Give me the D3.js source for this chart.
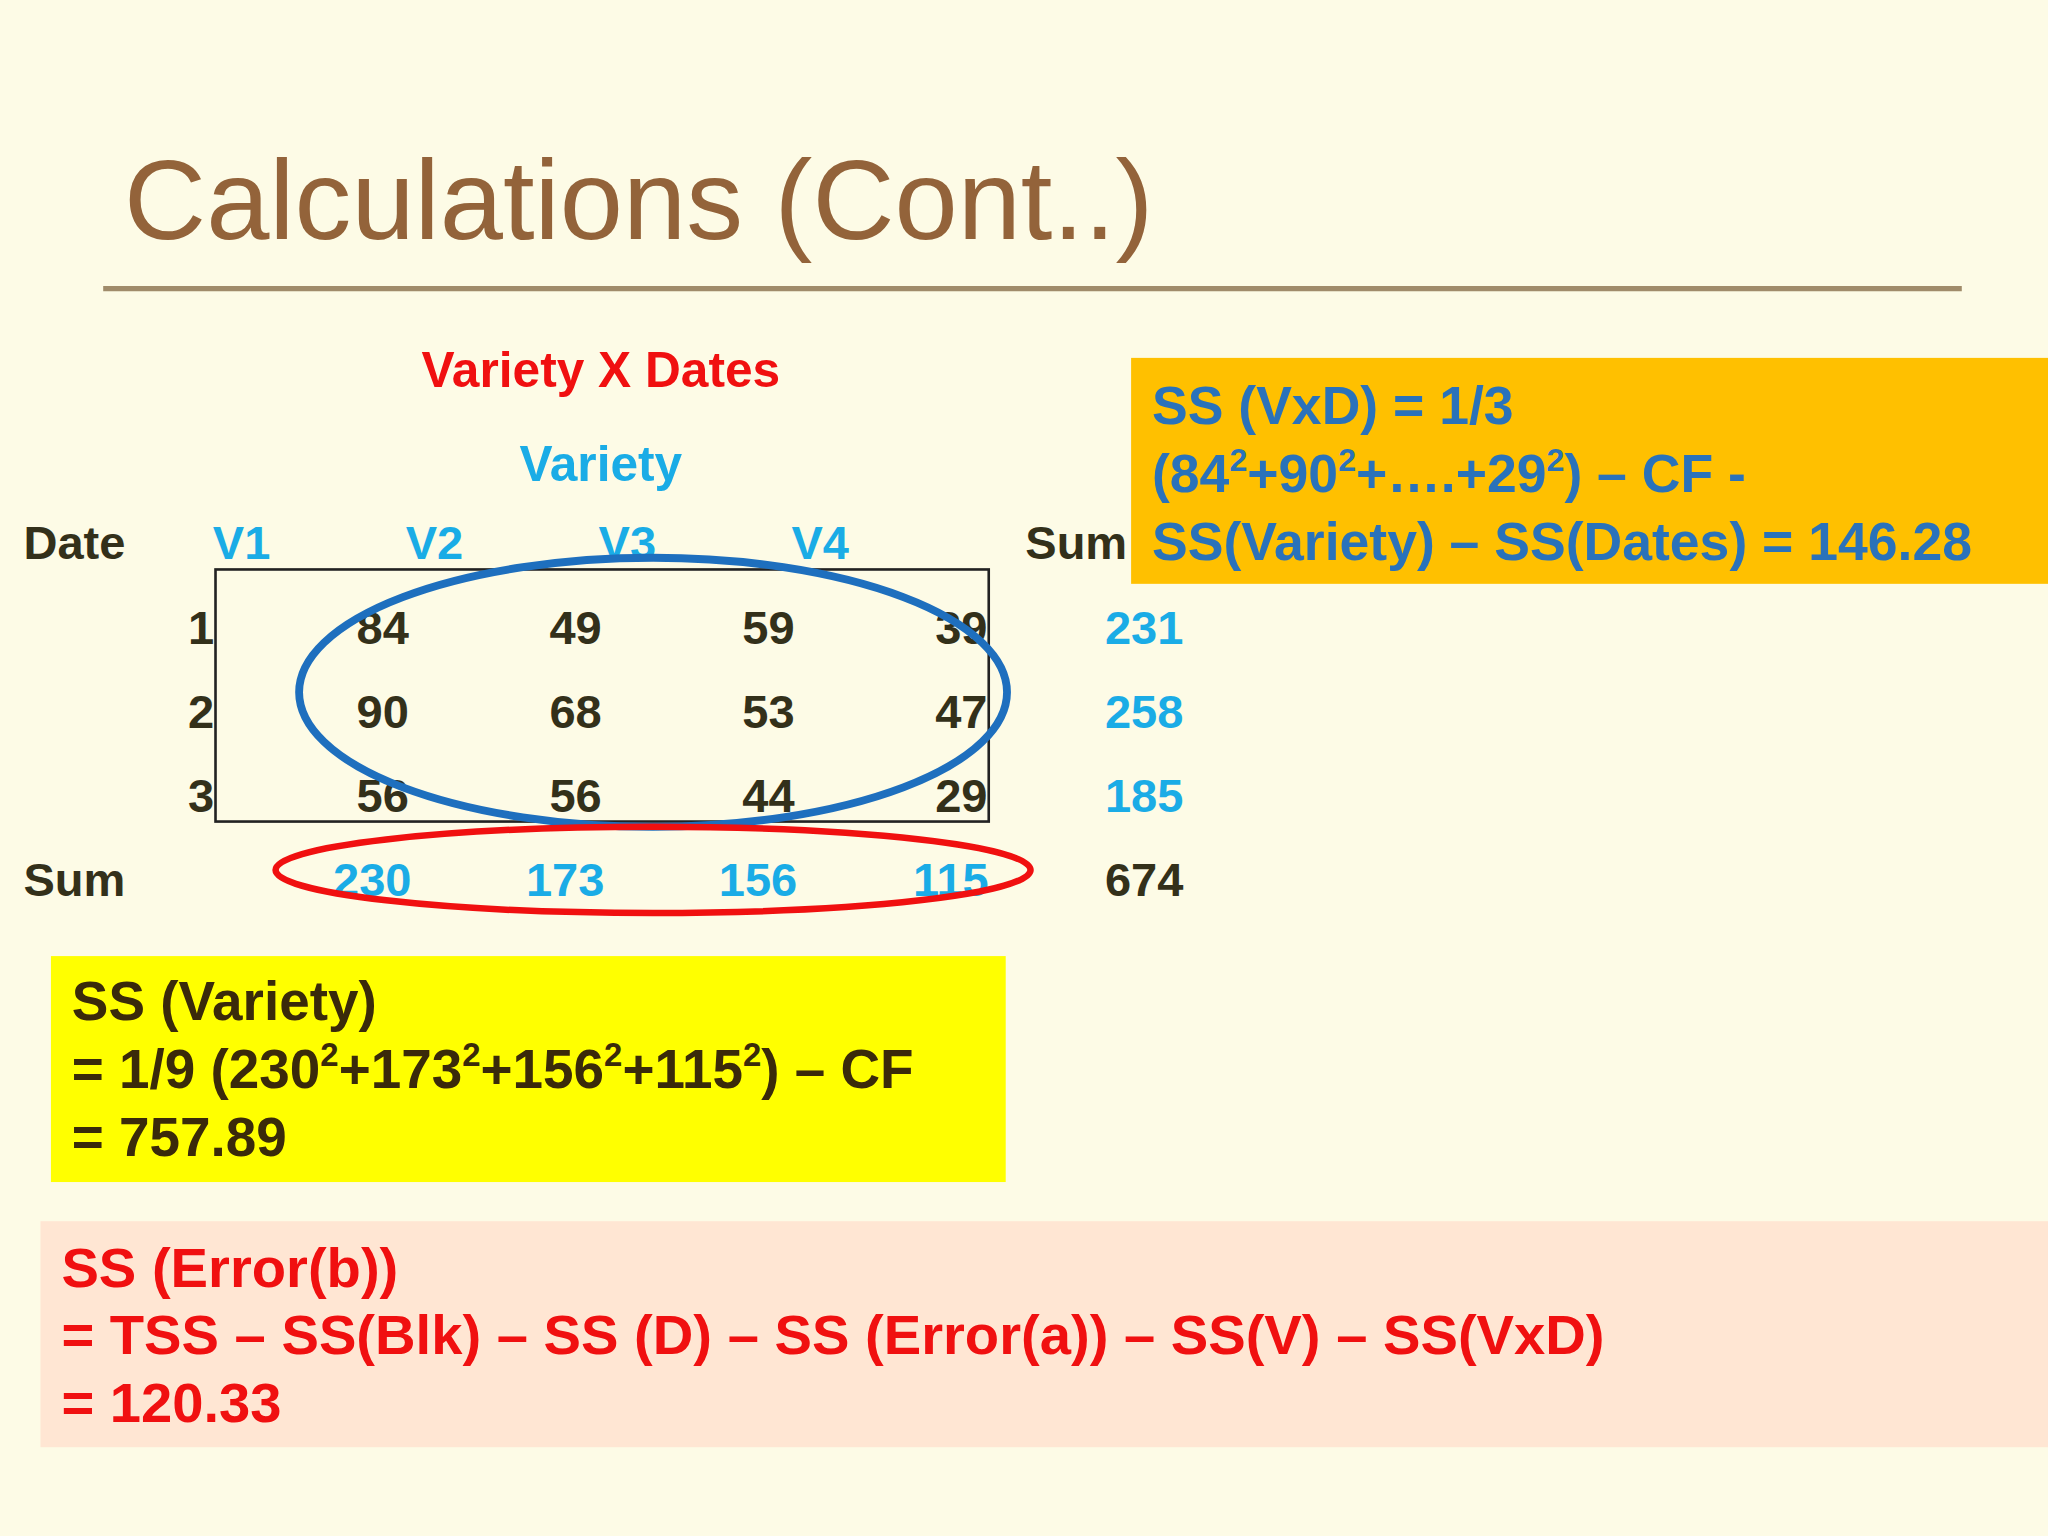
<!DOCTYPE html>
<html><head><meta charset="utf-8">
<script src="https://cdn.jsdelivr.net/npm/d3@7"></script>
<style>body{margin:0;background:#FDFBE6}svg{display:block}</style>
</head><body>
<script>
const varieties = ['V1', 'V2', 'V3', 'V4'];
const dates = ['1', '2', '3'];
const values = [[84, 49, 59, 39], [90, 68, 53, 47], [56, 56, 44, 29]];
const dateSums = [231, 258, 185];
const varietySums = [230, 173, 156, 115];
const grandTotal = 674;

const W = 1568, H = 1176;
const svg = d3.select('body').append('svg')
  .attr('width', 2048).attr('height', 1536)
  .attr('viewBox', `0 0 ${W} ${H}`)
  .style('font-family', '"Liberation Sans", Arial, sans-serif');

svg.append('rect').attr('width', W).attr('height', H).attr('fill', '#FDFBE6');

const dark = '#33301A', cyan = '#1AACE6', red = '#F01010', blue = '#2A72BA';

svg.append('text').attr('x', 95).attr('y', 183).attr('font-size', 87)
  .attr('fill', '#93633A').text('Calculations (Cont..)');
svg.append('line').attr('x1', 79).attr('x2', 1502).attr('y1', 221).attr('y2', 221)
  .attr('stroke', '#A08B6A').attr('stroke-width', 4);

const bold = s => s.attr('font-weight', 'bold').attr('font-size', 36);

bold(svg.append('text')).attr('x', 460).attr('y', 296).attr('text-anchor', 'middle')
  .attr('font-size', 38).attr('fill', red).text('Variety X Dates');
bold(svg.append('text')).attr('x', 460).attr('y', 368).attr('text-anchor', 'middle')
  .attr('font-size', 38).attr('fill', cyan).text('Variety');

// column scale: right edges of value columns
const x = d3.scalePoint().domain(varieties).range([313, 756]);
const y = d3.scalePoint().domain(dates).range([493, 622]);

bold(svg.append('text')).attr('x', 18).attr('y', 428).attr('fill', dark).text('Date');
bold(svg.append('text')).attr('x', 824).attr('y', 428).attr('text-anchor', 'middle').attr('fill', dark).text('Sum');
svg.selectAll('.vh').data(varieties).join('text').call(bold)
  .attr('x', d => x(d) - 128).attr('y', 428).attr('text-anchor', 'middle')
  .attr('fill', cyan).text(d => d);

svg.append('rect').attr('x', 165).attr('y', 436).attr('width', 592).attr('height', 193)
  .attr('fill', 'none').attr('stroke', '#222').attr('stroke-width', 2);

svg.selectAll('.dl').data(dates).join('text').call(bold)
  .attr('x', 164).attr('y', d => y(d)).attr('text-anchor', 'end')
  .attr('fill', dark).text(d => d);

values.forEach((row, i) => {
  svg.selectAll('.c' + i).data(row).join('text').call(bold)
    .attr('x', (d, j) => x(varieties[j])).attr('y', y(dates[i]))
    .attr('text-anchor', 'end').attr('fill', dark).text(d => d);
});
svg.selectAll('.ds').data(dateSums).join('text').call(bold)
  .attr('x', 876).attr('y', (d, i) => y(dates[i])).attr('text-anchor', 'middle')
  .attr('fill', cyan).text(d => d);

bold(svg.append('text')).attr('x', 18).attr('y', 686).attr('fill', dark).text('Sum');
svg.selectAll('.vs').data(varietySums).join('text').call(bold)
  .attr('x', (d, i) => x(varieties[i]) - 28).attr('y', 686).attr('text-anchor', 'middle')
  .attr('fill', cyan).text(d => d);
bold(svg.append('text')).attr('x', 876).attr('y', 686).attr('text-anchor', 'middle')
  .attr('fill', dark).text(grandTotal);

svg.append('ellipse').attr('cx', 500).attr('cy', 530).attr('rx', 271).attr('ry', 103)
  .attr('fill', 'none').attr('stroke', '#1E6FBE').attr('stroke-width', 6);
svg.append('ellipse').attr('cx', 500).attr('cy', 666).attr('rx', 289).attr('ry', 33)
  .attr('fill', 'none').attr('stroke', red).attr('stroke-width', 5);

function box(bx, by, bw, bh, fill, color, lines, tx, y0, fs) {
  svg.append('rect').attr('x', bx).attr('y', by).attr('width', bw).attr('height', bh).attr('fill', fill);
  lines.forEach((parts, i) => {
    const t = svg.append('text').attr('x', tx).attr('y', y0 + i * 52)
      .attr('font-weight', 'bold').attr('font-size', fs).attr('fill', color);
    let back = 0;
    parts.forEach(p => {
      if (typeof p === 'string') {
        t.append('tspan').attr('dy', back).text(p);
        back = 0;
      } else {
        t.append('tspan').attr('font-size', fs * 0.6).attr('dy', -fs * 0.4).text(p.sup);
        back = fs * 0.4;
      }
    });
  });
}

box(866, 274, 702, 173, '#FFC000', blue, [
  ['SS (VxD)  =  1/3'],
  ['(84', {sup: '2'}, '+90', {sup: '2'}, '+….+29', {sup: '2'}, ') – CF -'],
  ['SS(Variety) – SS(Dates) = 146.28']
], 882, 325, 41);

box(39, 732, 731, 173, '#FFFF00', '#3A2A0A', [
  ['SS (Variety)'],
  ['= 1/9 (230', {sup: '2'}, '+173', {sup: '2'}, '+156', {sup: '2'}, '+115', {sup: '2'}, ') – CF'],
  ['= 757.89']
], 55, 781, 42);

box(31, 935, 1537, 173, '#FFE6D3', red, [
  ['SS (Error(b))'],
  ['= TSS – SS(Blk) – SS (D) – SS (Error(a)) – SS(V) – SS(VxD)'],
  ['= 120.33']
], 47, 985, 43);
</script>
</body></html>
